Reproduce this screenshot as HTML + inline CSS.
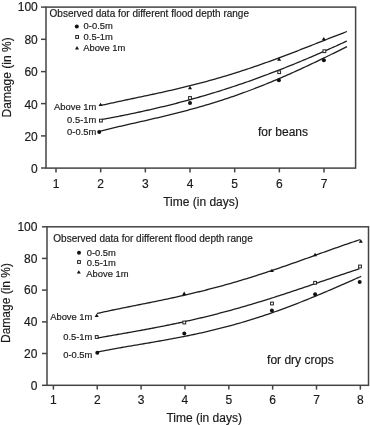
<!DOCTYPE html>
<html><head><meta charset="utf-8"><style>
html,body{margin:0;padding:0;background:#fff;}
svg{display:block;}
</style></head><body>
<svg width="370" height="425" viewBox="0 0 370 425">
<rect width="370" height="425" fill="#fff"/>
<rect x="46" y="7.1" width="309.6" height="161.0" stroke="#444" stroke-width="1.5" fill="none"/>
<line x1="56.0" y1="168.1" x2="56.0" y2="172.4" stroke="#444" stroke-width="1.5" fill="none"/>
<text x="56.00" y="187.5" text-anchor="middle" font-size="12" font-family="Liberation Sans, Arial, sans-serif" stroke="#1a1a1a" stroke-width="0.18" fill="#1a1a1a">1</text>
<line x1="100.67" y1="168.1" x2="100.67" y2="172.4" stroke="#444" stroke-width="1.5" fill="none"/>
<text x="100.67" y="187.5" text-anchor="middle" font-size="12" font-family="Liberation Sans, Arial, sans-serif" stroke="#1a1a1a" stroke-width="0.18" fill="#1a1a1a">2</text>
<line x1="145.34" y1="168.1" x2="145.34" y2="172.4" stroke="#444" stroke-width="1.5" fill="none"/>
<text x="145.34" y="187.5" text-anchor="middle" font-size="12" font-family="Liberation Sans, Arial, sans-serif" stroke="#1a1a1a" stroke-width="0.18" fill="#1a1a1a">3</text>
<line x1="190.01" y1="168.1" x2="190.01" y2="172.4" stroke="#444" stroke-width="1.5" fill="none"/>
<text x="190.01" y="187.5" text-anchor="middle" font-size="12" font-family="Liberation Sans, Arial, sans-serif" stroke="#1a1a1a" stroke-width="0.18" fill="#1a1a1a">4</text>
<line x1="234.68" y1="168.1" x2="234.68" y2="172.4" stroke="#444" stroke-width="1.5" fill="none"/>
<text x="234.68" y="187.5" text-anchor="middle" font-size="12" font-family="Liberation Sans, Arial, sans-serif" stroke="#1a1a1a" stroke-width="0.18" fill="#1a1a1a">5</text>
<line x1="279.35" y1="168.1" x2="279.35" y2="172.4" stroke="#444" stroke-width="1.5" fill="none"/>
<text x="279.35" y="187.5" text-anchor="middle" font-size="12" font-family="Liberation Sans, Arial, sans-serif" stroke="#1a1a1a" stroke-width="0.18" fill="#1a1a1a">6</text>
<line x1="324.02" y1="168.1" x2="324.02" y2="172.4" stroke="#444" stroke-width="1.5" fill="none"/>
<text x="324.02" y="187.5" text-anchor="middle" font-size="12" font-family="Liberation Sans, Arial, sans-serif" stroke="#1a1a1a" stroke-width="0.18" fill="#1a1a1a">7</text>
<line x1="41" y1="168.0" x2="46" y2="168.0" stroke="#444" stroke-width="1.5" fill="none"/>
<text x="37.75" y="173.05" text-anchor="end" font-size="12" font-family="Liberation Sans, Arial, sans-serif" stroke="#1a1a1a" stroke-width="0.18" fill="#1a1a1a">0</text>
<line x1="41" y1="135.9" x2="46" y2="135.9" stroke="#444" stroke-width="1.5" fill="none"/>
<text x="37.75" y="140.65" text-anchor="end" font-size="12" font-family="Liberation Sans, Arial, sans-serif" stroke="#1a1a1a" stroke-width="0.18" fill="#1a1a1a">20</text>
<line x1="41" y1="103.6" x2="46" y2="103.6" stroke="#444" stroke-width="1.5" fill="none"/>
<text x="37.75" y="108.65" text-anchor="end" font-size="12" font-family="Liberation Sans, Arial, sans-serif" stroke="#1a1a1a" stroke-width="0.18" fill="#1a1a1a">40</text>
<line x1="41" y1="71.6" x2="46" y2="71.6" stroke="#444" stroke-width="1.5" fill="none"/>
<text x="37.75" y="76.25" text-anchor="end" font-size="12" font-family="Liberation Sans, Arial, sans-serif" stroke="#1a1a1a" stroke-width="0.18" fill="#1a1a1a">60</text>
<line x1="41" y1="39.3" x2="46" y2="39.3" stroke="#444" stroke-width="1.5" fill="none"/>
<text x="37.75" y="43.65" text-anchor="end" font-size="12" font-family="Liberation Sans, Arial, sans-serif" stroke="#1a1a1a" stroke-width="0.18" fill="#1a1a1a">80</text>
<line x1="41" y1="7.1" x2="46" y2="7.1" stroke="#444" stroke-width="1.5" fill="none"/>
<text x="37.75" y="10.55" text-anchor="end" font-size="12" font-family="Liberation Sans, Arial, sans-serif" stroke="#1a1a1a" stroke-width="0.18" fill="#1a1a1a">100</text>
<rect x="47" y="226.8" width="321.5" height="158.5" stroke="#444" stroke-width="1.5" fill="none"/>
<line x1="53.4" y1="385.3" x2="53.4" y2="389.6" stroke="#444" stroke-width="1.5" fill="none"/>
<text x="53.40" y="404" text-anchor="middle" font-size="12" font-family="Liberation Sans, Arial, sans-serif" stroke="#1a1a1a" stroke-width="0.18" fill="#1a1a1a">1</text>
<line x1="97.25" y1="385.3" x2="97.25" y2="389.6" stroke="#444" stroke-width="1.5" fill="none"/>
<text x="97.25" y="404" text-anchor="middle" font-size="12" font-family="Liberation Sans, Arial, sans-serif" stroke="#1a1a1a" stroke-width="0.18" fill="#1a1a1a">2</text>
<line x1="141.1" y1="385.3" x2="141.1" y2="389.6" stroke="#444" stroke-width="1.5" fill="none"/>
<text x="141.10" y="404" text-anchor="middle" font-size="12" font-family="Liberation Sans, Arial, sans-serif" stroke="#1a1a1a" stroke-width="0.18" fill="#1a1a1a">3</text>
<line x1="184.95000000000002" y1="385.3" x2="184.95000000000002" y2="389.6" stroke="#444" stroke-width="1.5" fill="none"/>
<text x="184.95" y="404" text-anchor="middle" font-size="12" font-family="Liberation Sans, Arial, sans-serif" stroke="#1a1a1a" stroke-width="0.18" fill="#1a1a1a">4</text>
<line x1="228.8" y1="385.3" x2="228.8" y2="389.6" stroke="#444" stroke-width="1.5" fill="none"/>
<text x="228.80" y="404" text-anchor="middle" font-size="12" font-family="Liberation Sans, Arial, sans-serif" stroke="#1a1a1a" stroke-width="0.18" fill="#1a1a1a">5</text>
<line x1="272.65" y1="385.3" x2="272.65" y2="389.6" stroke="#444" stroke-width="1.5" fill="none"/>
<text x="272.65" y="404" text-anchor="middle" font-size="12" font-family="Liberation Sans, Arial, sans-serif" stroke="#1a1a1a" stroke-width="0.18" fill="#1a1a1a">6</text>
<line x1="316.5" y1="385.3" x2="316.5" y2="389.6" stroke="#444" stroke-width="1.5" fill="none"/>
<text x="316.50" y="404" text-anchor="middle" font-size="12" font-family="Liberation Sans, Arial, sans-serif" stroke="#1a1a1a" stroke-width="0.18" fill="#1a1a1a">7</text>
<line x1="360.34999999999997" y1="385.3" x2="360.34999999999997" y2="389.6" stroke="#444" stroke-width="1.5" fill="none"/>
<text x="360.35" y="404" text-anchor="middle" font-size="12" font-family="Liberation Sans, Arial, sans-serif" stroke="#1a1a1a" stroke-width="0.18" fill="#1a1a1a">8</text>
<line x1="42" y1="385.3" x2="47" y2="385.3" stroke="#444" stroke-width="1.5" fill="none"/>
<text x="37.45" y="389.70" text-anchor="end" font-size="12" font-family="Liberation Sans, Arial, sans-serif" stroke="#1a1a1a" stroke-width="0.18" fill="#1a1a1a">0</text>
<line x1="42" y1="353.5" x2="47" y2="353.5" stroke="#444" stroke-width="1.5" fill="none"/>
<text x="37.45" y="357.65" text-anchor="end" font-size="12" font-family="Liberation Sans, Arial, sans-serif" stroke="#1a1a1a" stroke-width="0.18" fill="#1a1a1a">20</text>
<line x1="42" y1="321.9" x2="47" y2="321.9" stroke="#444" stroke-width="1.5" fill="none"/>
<text x="37.45" y="325.90" text-anchor="end" font-size="12" font-family="Liberation Sans, Arial, sans-serif" stroke="#1a1a1a" stroke-width="0.18" fill="#1a1a1a">40</text>
<line x1="42" y1="290.1" x2="47" y2="290.1" stroke="#444" stroke-width="1.5" fill="none"/>
<text x="37.45" y="294.10" text-anchor="end" font-size="12" font-family="Liberation Sans, Arial, sans-serif" stroke="#1a1a1a" stroke-width="0.18" fill="#1a1a1a">60</text>
<line x1="42" y1="258.4" x2="47" y2="258.4" stroke="#444" stroke-width="1.5" fill="none"/>
<text x="37.45" y="262.75" text-anchor="end" font-size="12" font-family="Liberation Sans, Arial, sans-serif" stroke="#1a1a1a" stroke-width="0.18" fill="#1a1a1a">80</text>
<line x1="42" y1="226.8" x2="47" y2="226.8" stroke="#444" stroke-width="1.5" fill="none"/>
<text x="37.45" y="230.95" text-anchor="end" font-size="12" font-family="Liberation Sans, Arial, sans-serif" stroke="#1a1a1a" stroke-width="0.18" fill="#1a1a1a">100</text>
<path d="M101.00,105.45 L103.00,104.99 L105.00,104.54 L107.00,104.09 L109.00,103.64 L111.00,103.20 L113.00,102.76 L115.00,102.32 L117.00,101.89 L119.00,101.46 L121.00,101.03 L123.00,100.61 L125.00,100.18 L127.00,99.76 L129.00,99.33 L131.00,98.91 L133.00,98.49 L135.00,98.07 L137.00,97.65 L139.00,97.23 L141.00,96.81 L143.00,96.38 L145.00,95.96 L147.00,95.54 L149.00,95.11 L151.00,94.68 L153.00,94.25 L155.00,93.82 L157.00,93.38 L159.00,92.95 L161.00,92.51 L163.00,92.06 L165.00,91.62 L167.00,91.17 L169.00,90.72 L171.00,90.26 L173.00,89.80 L175.00,89.34 L177.00,88.87 L179.00,88.39 L181.00,87.92 L183.00,87.44 L185.00,86.95 L187.00,86.46 L189.00,85.96 L191.00,85.46 L193.00,84.96 L195.00,84.45 L197.00,83.93 L199.00,83.41 L201.00,82.88 L203.00,82.35 L205.00,81.81 L207.00,81.27 L209.00,80.72 L211.00,80.17 L213.00,79.61 L215.00,79.04 L217.00,78.47 L219.00,77.89 L221.00,77.30 L223.00,76.71 L225.00,76.12 L227.00,75.51 L229.00,74.91 L231.00,74.29 L233.00,73.67 L235.00,73.05 L237.00,72.41 L239.00,71.78 L241.00,71.13 L243.00,70.48 L245.00,69.83 L247.00,69.17 L249.00,68.50 L251.00,67.83 L253.00,67.15 L255.00,66.47 L257.00,65.78 L259.00,65.08 L261.00,64.38 L263.00,63.68 L265.00,62.97 L267.00,62.25 L269.00,61.54 L271.00,60.81 L273.00,60.08 L275.00,59.35 L277.00,58.61 L279.00,57.87 L281.00,57.12 L283.00,56.37 L285.00,55.62 L287.00,54.86 L289.00,54.10 L291.00,53.34 L293.00,52.57 L295.00,51.80 L297.00,51.03 L299.00,50.25 L301.00,49.48 L303.00,48.70 L305.00,47.91 L307.00,47.13 L309.00,46.35 L311.00,45.56 L313.00,44.77 L315.00,43.99 L317.00,43.20 L319.00,42.41 L321.00,41.62 L323.00,40.83 L325.00,40.05 L327.00,39.26 L329.00,38.47 L331.00,37.69 L333.00,36.90 L335.00,36.12 L337.00,35.34 L339.00,34.57 L341.00,33.80 L343.00,33.02 L345.00,32.26 L347.00,31.50" fill="none" stroke="#1e1e1e" stroke-width="1.3"/>
<path d="M101.50,119.60 L103.50,119.23 L105.50,118.86 L107.50,118.48 L109.50,118.10 L111.50,117.72 L113.50,117.33 L115.50,116.95 L117.50,116.55 L119.50,116.16 L121.50,115.76 L123.50,115.36 L125.50,114.95 L127.50,114.54 L129.50,114.13 L131.50,113.72 L133.50,113.30 L135.50,112.87 L137.50,112.44 L139.50,112.01 L141.50,111.58 L143.50,111.14 L145.50,110.69 L147.50,110.25 L149.50,109.79 L151.50,109.34 L153.50,108.88 L155.50,108.41 L157.50,107.94 L159.50,107.47 L161.50,106.99 L163.50,106.51 L165.50,106.02 L167.50,105.53 L169.50,105.03 L171.50,104.53 L173.50,104.03 L175.50,103.51 L177.50,103.00 L179.50,102.48 L181.50,101.95 L183.50,101.42 L185.50,100.89 L187.50,100.35 L189.50,99.80 L191.50,99.25 L193.50,98.70 L195.50,98.14 L197.50,97.57 L199.50,97.00 L201.50,96.43 L203.50,95.84 L205.50,95.26 L207.50,94.67 L209.50,94.07 L211.50,93.47 L213.50,92.86 L215.50,92.25 L217.50,91.63 L219.50,91.01 L221.50,90.38 L223.50,89.75 L225.50,89.11 L227.50,88.47 L229.50,87.82 L231.50,87.16 L233.50,86.50 L235.50,85.84 L237.50,85.17 L239.50,84.49 L241.50,83.81 L243.50,83.13 L245.50,82.44 L247.50,81.74 L249.50,81.04 L251.50,80.33 L253.50,79.62 L255.50,78.90 L257.50,78.18 L259.50,77.45 L261.50,76.72 L263.50,75.98 L265.50,75.23 L267.50,74.49 L269.50,73.73 L271.50,72.97 L273.50,72.21 L275.50,71.44 L277.50,70.67 L279.50,69.89 L281.50,69.11 L283.50,68.32 L285.50,67.52 L287.50,66.72 L289.50,65.92 L291.50,65.11 L293.50,64.30 L295.50,63.48 L297.50,62.66 L299.50,61.84 L301.50,61.00 L303.50,60.17 L305.50,59.33 L307.50,58.48 L309.50,57.63 L311.50,56.78 L313.50,55.92 L315.50,55.06 L317.50,54.20 L319.50,53.33 L321.50,52.45 L323.50,51.57 L325.50,50.69 L327.50,49.80 L329.50,48.91 L331.50,48.02 L333.50,47.12 L335.50,46.22 L337.50,45.32 L339.50,44.41 L341.50,43.50 L343.50,42.58 L345.50,41.66 L347.00,40.97" fill="none" stroke="#1e1e1e" stroke-width="1.3"/>
<path d="M99.50,131.33 L101.50,130.82 L103.50,130.32 L105.50,129.83 L107.50,129.34 L109.50,128.86 L111.50,128.38 L113.50,127.90 L115.50,127.43 L117.50,126.96 L119.50,126.49 L121.50,126.03 L123.50,125.57 L125.50,125.11 L127.50,124.65 L129.50,124.19 L131.50,123.74 L133.50,123.28 L135.50,122.83 L137.50,122.37 L139.50,121.92 L141.50,121.46 L143.50,121.01 L145.50,120.55 L147.50,120.09 L149.50,119.63 L151.50,119.17 L153.50,118.70 L155.50,118.24 L157.50,117.77 L159.50,117.29 L161.50,116.82 L163.50,116.34 L165.50,115.86 L167.50,115.37 L169.50,114.88 L171.50,114.39 L173.50,113.89 L175.50,113.39 L177.50,112.89 L179.50,112.38 L181.50,111.86 L183.50,111.34 L185.50,110.81 L187.50,110.28 L189.50,109.74 L191.50,109.20 L193.50,108.65 L195.50,108.10 L197.50,107.53 L199.50,106.97 L201.50,106.39 L203.50,105.81 L205.50,105.23 L207.50,104.63 L209.50,104.03 L211.50,103.43 L213.50,102.81 L215.50,102.19 L217.50,101.56 L219.50,100.93 L221.50,100.29 L223.50,99.64 L225.50,98.98 L227.50,98.31 L229.50,97.64 L231.50,96.96 L233.50,96.28 L235.50,95.58 L237.50,94.88 L239.50,94.17 L241.50,93.46 L243.50,92.73 L245.50,92.00 L247.50,91.26 L249.50,90.51 L251.50,89.76 L253.50,89.00 L255.50,88.23 L257.50,87.45 L259.50,86.67 L261.50,85.87 L263.50,85.08 L265.50,84.27 L267.50,83.46 L269.50,82.64 L271.50,81.81 L273.50,80.97 L275.50,80.13 L277.50,79.28 L279.50,78.43 L281.50,77.57 L283.50,76.70 L285.50,75.83 L287.50,74.95 L289.50,74.06 L291.50,73.17 L293.50,72.27 L295.50,71.36 L297.50,70.45 L299.50,69.54 L301.50,68.62 L303.50,67.69 L305.50,66.76 L307.50,65.82 L309.50,64.88 L311.50,63.94 L313.50,62.99 L315.50,62.04 L317.50,61.08 L319.50,60.12 L321.50,59.15 L323.50,58.19 L325.50,57.21 L327.50,56.24 L329.50,55.26 L331.50,54.29 L333.50,53.30 L335.50,52.32 L337.50,51.34 L339.50,50.35 L341.50,49.36 L343.50,48.38 L345.50,47.39 L347.00,46.65" fill="none" stroke="#1e1e1e" stroke-width="1.3"/>
<path d="M97.00,313.47 L99.00,313.02 L101.00,312.58 L103.00,312.14 L105.00,311.71 L107.00,311.28 L109.00,310.85 L111.00,310.43 L113.00,310.01 L115.00,309.60 L117.00,309.18 L119.00,308.77 L121.00,308.37 L123.00,307.96 L125.00,307.56 L127.00,307.15 L129.00,306.75 L131.00,306.35 L133.00,305.95 L135.00,305.55 L137.00,305.15 L139.00,304.75 L141.00,304.35 L143.00,303.95 L145.00,303.55 L147.00,303.15 L149.00,302.74 L151.00,302.34 L153.00,301.93 L155.00,301.52 L157.00,301.11 L159.00,300.70 L161.00,300.28 L163.00,299.87 L165.00,299.45 L167.00,299.02 L169.00,298.60 L171.00,298.17 L173.00,297.74 L175.00,297.30 L177.00,296.86 L179.00,296.42 L181.00,295.97 L183.00,295.52 L185.00,295.06 L187.00,294.60 L189.00,294.14 L191.00,293.67 L193.00,293.20 L195.00,292.72 L197.00,292.24 L199.00,291.75 L201.00,291.26 L203.00,290.76 L205.00,290.26 L207.00,289.75 L209.00,289.24 L211.00,288.72 L213.00,288.20 L215.00,287.67 L217.00,287.14 L219.00,286.60 L221.00,286.06 L223.00,285.51 L225.00,284.96 L227.00,284.40 L229.00,283.83 L231.00,283.26 L233.00,282.69 L235.00,282.11 L237.00,281.52 L239.00,280.93 L241.00,280.34 L243.00,279.73 L245.00,279.13 L247.00,278.52 L249.00,277.90 L251.00,277.28 L253.00,276.65 L255.00,276.02 L257.00,275.38 L259.00,274.74 L261.00,274.10 L263.00,273.45 L265.00,272.79 L267.00,272.14 L269.00,271.47 L271.00,270.81 L273.00,270.13 L275.00,269.46 L277.00,268.78 L279.00,268.10 L281.00,267.41 L283.00,266.72 L285.00,266.03 L287.00,265.34 L289.00,264.64 L291.00,263.94 L293.00,263.23 L295.00,262.53 L297.00,261.82 L299.00,261.11 L301.00,260.40 L303.00,259.68 L305.00,258.97 L307.00,258.25 L309.00,257.54 L311.00,256.82 L313.00,256.10 L315.00,255.38 L317.00,254.66 L319.00,253.94 L321.00,253.22 L323.00,252.51 L325.00,251.79 L327.00,251.07 L329.00,250.36 L331.00,249.65 L333.00,248.94 L335.00,248.23 L337.00,247.52 L339.00,246.82 L341.00,246.12 L343.00,245.42 L345.00,244.73 L347.00,244.04 L349.00,243.35 L351.00,242.67 L353.00,242.00 L355.00,241.33 L357.00,240.66 L359.00,240.00 L360.30,239.58" fill="none" stroke="#1e1e1e" stroke-width="1.3"/>
<path d="M97.50,337.99 L99.50,337.64 L101.50,337.29 L103.50,336.94 L105.50,336.59 L107.50,336.25 L109.50,335.90 L111.50,335.55 L113.50,335.20 L115.50,334.86 L117.50,334.51 L119.50,334.16 L121.50,333.81 L123.50,333.46 L125.50,333.11 L127.50,332.76 L129.50,332.40 L131.50,332.05 L133.50,331.69 L135.50,331.33 L137.50,330.97 L139.50,330.61 L141.50,330.25 L143.50,329.88 L145.50,329.51 L147.50,329.14 L149.50,328.76 L151.50,328.38 L153.50,328.00 L155.50,327.62 L157.50,327.23 L159.50,326.84 L161.50,326.45 L163.50,326.05 L165.50,325.65 L167.50,325.25 L169.50,324.84 L171.50,324.43 L173.50,324.01 L175.50,323.59 L177.50,323.17 L179.50,322.74 L181.50,322.31 L183.50,321.87 L185.50,321.43 L187.50,320.99 L189.50,320.54 L191.50,320.08 L193.50,319.62 L195.50,319.16 L197.50,318.69 L199.50,318.22 L201.50,317.75 L203.50,317.26 L205.50,316.78 L207.50,316.29 L209.50,315.79 L211.50,315.29 L213.50,314.79 L215.50,314.28 L217.50,313.76 L219.50,313.24 L221.50,312.72 L223.50,312.19 L225.50,311.65 L227.50,311.12 L229.50,310.57 L231.50,310.02 L233.50,309.47 L235.50,308.91 L237.50,308.35 L239.50,307.79 L241.50,307.21 L243.50,306.64 L245.50,306.06 L247.50,305.47 L249.50,304.88 L251.50,304.29 L253.50,303.69 L255.50,303.09 L257.50,302.49 L259.50,301.88 L261.50,301.26 L263.50,300.64 L265.50,300.02 L267.50,299.40 L269.50,298.77 L271.50,298.14 L273.50,297.50 L275.50,296.86 L277.50,296.22 L279.50,295.57 L281.50,294.92 L283.50,294.27 L285.50,293.62 L287.50,292.96 L289.50,292.30 L291.50,291.64 L293.50,290.97 L295.50,290.30 L297.50,289.63 L299.50,288.96 L301.50,288.29 L303.50,287.61 L305.50,286.94 L307.50,286.26 L309.50,285.58 L311.50,284.90 L313.50,284.22 L315.50,283.54 L317.50,282.86 L319.50,282.17 L321.50,281.49 L323.50,280.81 L325.50,280.13 L327.50,279.44 L329.50,278.76 L331.50,278.08 L333.50,277.40 L335.50,276.72 L337.50,276.04 L339.50,275.37 L341.50,274.69 L343.50,274.02 L345.50,273.35 L347.50,272.68 L349.50,272.02 L351.50,271.35 L353.50,270.69 L355.50,270.04 L357.50,269.38 L359.50,268.74" fill="none" stroke="#1e1e1e" stroke-width="1.3"/>
<path d="M97.70,351.96 L99.70,351.57 L101.70,351.17 L103.70,350.79 L105.70,350.41 L107.70,350.03 L109.70,349.66 L111.70,349.29 L113.70,348.93 L115.70,348.57 L117.70,348.21 L119.70,347.86 L121.70,347.51 L123.70,347.17 L125.70,346.82 L127.70,346.48 L129.70,346.14 L131.70,345.80 L133.70,345.46 L135.70,345.12 L137.70,344.78 L139.70,344.44 L141.70,344.10 L143.70,343.76 L145.70,343.43 L147.70,343.09 L149.70,342.74 L151.70,342.40 L153.70,342.06 L155.70,341.71 L157.70,341.36 L159.70,341.01 L161.70,340.66 L163.70,340.30 L165.70,339.94 L167.70,339.58 L169.70,339.22 L171.70,338.85 L173.70,338.47 L175.70,338.10 L177.70,337.72 L179.70,337.33 L181.70,336.94 L183.70,336.55 L185.70,336.15 L187.70,335.74 L189.70,335.33 L191.70,334.92 L193.70,334.50 L195.70,334.07 L197.70,333.64 L199.70,333.20 L201.70,332.76 L203.70,332.31 L205.70,331.86 L207.70,331.39 L209.70,330.93 L211.70,330.45 L213.70,329.97 L215.70,329.48 L217.70,328.99 L219.70,328.49 L221.70,327.98 L223.70,327.46 L225.70,326.94 L227.70,326.41 L229.70,325.87 L231.70,325.33 L233.70,324.78 L235.70,324.22 L237.70,323.66 L239.70,323.08 L241.70,322.50 L243.70,321.91 L245.70,321.32 L247.70,320.72 L249.70,320.11 L251.70,319.49 L253.70,318.86 L255.70,318.23 L257.70,317.59 L259.70,316.95 L261.70,316.29 L263.70,315.63 L265.70,314.96 L267.70,314.28 L269.70,313.60 L271.70,312.91 L273.70,312.21 L275.70,311.51 L277.70,310.79 L279.70,310.08 L281.70,309.35 L283.70,308.62 L285.70,307.88 L287.70,307.13 L289.70,306.38 L291.70,305.62 L293.70,304.86 L295.70,304.09 L297.70,303.31 L299.70,302.52 L301.70,301.74 L303.70,300.94 L305.70,300.14 L307.70,299.33 L309.70,298.52 L311.70,297.71 L313.70,296.88 L315.70,296.06 L317.70,295.23 L319.70,294.39 L321.70,293.55 L323.70,292.71 L325.70,291.86 L327.70,291.01 L329.70,290.15 L331.70,289.29 L333.70,288.43 L335.70,287.56 L337.70,286.69 L339.70,285.82 L341.70,284.95 L343.70,284.07 L345.70,283.19 L347.70,282.31 L349.70,281.43 L351.70,280.55 L353.70,279.67 L355.70,278.78 L357.70,277.90 L359.70,277.02 L361.20,276.35" fill="none" stroke="#1e1e1e" stroke-width="1.3"/>
<path d="M98.50,106.10 L102.50,106.10 L100.50,102.70 Z" fill="#111"/><rect x="99.50" y="119.20" width="2.8" height="2.8" fill="#fff" stroke="#222" stroke-width="1"/><circle cx="99.2" cy="132.1" r="2.0" fill="#111"/><path d="M188.00,89.20 L192.00,89.20 L190.00,85.80 Z" fill="#111"/><rect x="188.60" y="96.60" width="2.8" height="2.8" fill="#fff" stroke="#222" stroke-width="1"/><circle cx="190" cy="103" r="2.0" fill="#111"/><path d="M277.10,60.70 L281.10,60.70 L279.10,57.30 Z" fill="#111"/><rect x="277.80" y="70.80" width="2.8" height="2.8" fill="#fff" stroke="#222" stroke-width="1"/><circle cx="278.9" cy="80.2" r="2.0" fill="#111"/><path d="M321.80,40.30 L325.80,40.30 L323.80,36.90 Z" fill="#111"/><rect x="323.00" y="49.80" width="2.8" height="2.8" fill="#fff" stroke="#222" stroke-width="1"/><circle cx="323.9" cy="60.2" r="2.0" fill="#111"/><path d="M94.70,317.00 L98.70,317.00 L96.70,313.60 Z" fill="#111"/><rect x="95.30" y="335.60" width="2.8" height="2.8" fill="#fff" stroke="#222" stroke-width="1"/><circle cx="97.3" cy="352.7" r="2.0" fill="#111"/><path d="M182.20,294.90 L186.20,294.90 L184.20,291.50 Z" fill="#111"/><rect x="182.90" y="321.10" width="2.8" height="2.8" fill="#fff" stroke="#222" stroke-width="1"/><circle cx="184.3" cy="333.5" r="2.0" fill="#111"/><path d="M269.90,272.10 L273.90,272.10 L271.90,268.70 Z" fill="#111"/><rect x="270.60" y="302.10" width="2.8" height="2.8" fill="#fff" stroke="#222" stroke-width="1"/><circle cx="271.9" cy="310.4" r="2.0" fill="#111"/><path d="M313.10,256.20 L317.10,256.20 L315.10,252.80 Z" fill="#111"/><rect x="313.70" y="281.40" width="2.8" height="2.8" fill="#fff" stroke="#222" stroke-width="1"/><circle cx="315.1" cy="294.2" r="2.0" fill="#111"/><path d="M358.80,242.70 L362.80,242.70 L360.80,239.30 Z" fill="#111"/><rect x="358.60" y="265.10" width="2.8" height="2.8" fill="#fff" stroke="#222" stroke-width="1"/><circle cx="359.7" cy="281.9" r="2.0" fill="#111"/>
<circle cx="76.8" cy="26.5" r="2.0" fill="#111"/><rect x="75.70" y="35.60" width="2.8" height="2.8" fill="#fff" stroke="#222" stroke-width="1"/><path d="M75.00,49.40 L79.00,49.40 L77.00,46.00 Z" fill="#111"/><circle cx="79.0" cy="252.7" r="2.0" fill="#111"/><rect x="77.60" y="260.60" width="2.8" height="2.8" fill="#fff" stroke="#222" stroke-width="1"/><path d="M76.80,273.60 L80.80,273.60 L78.80,270.20 Z" fill="#111"/>

<text x="163.2" y="206.2" font-size="12" font-family="Liberation Sans, Arial, sans-serif" stroke="#1a1a1a" stroke-width="0.18" fill="#1a1a1a">Time (in days)</text>
<text x="166.4" y="422.4" font-size="12" font-family="Liberation Sans, Arial, sans-serif" stroke="#1a1a1a" stroke-width="0.18" fill="#1a1a1a">Time (in days)</text>
<text transform="translate(10.6,117.4) rotate(-90)" font-size="12" font-family="Liberation Sans, Arial, sans-serif" stroke="#1a1a1a" stroke-width="0.18" fill="#1a1a1a">Damage (in %)</text>
<text transform="translate(10.3,343) rotate(-90)" font-size="12" font-family="Liberation Sans, Arial, sans-serif" stroke="#1a1a1a" stroke-width="0.18" fill="#1a1a1a">Damage (in %)</text>
<text x="49.6" y="16.9" font-size="10" font-family="Liberation Sans, Arial, sans-serif" stroke="#1a1a1a" stroke-width="0.18" fill="#1a1a1a">Observed data for different flood depth range</text>
<text x="53.3" y="242.3" font-size="10" font-family="Liberation Sans, Arial, sans-serif" stroke="#1a1a1a" stroke-width="0.18" fill="#1a1a1a">Observed data for different flood depth range</text>
<text x="83.6" y="29.2" font-size="9.4" font-family="Liberation Sans, Arial, sans-serif" stroke="#1a1a1a" stroke-width="0.18" fill="#1a1a1a">0-0.5m</text>
<text x="83.6" y="39.8" font-size="9.4" font-family="Liberation Sans, Arial, sans-serif" stroke="#1a1a1a" stroke-width="0.18" fill="#1a1a1a">0.5-1m</text>
<text x="83.2" y="50.5" font-size="9.4" font-family="Liberation Sans, Arial, sans-serif" stroke="#1a1a1a" stroke-width="0.18" fill="#1a1a1a">Above 1m</text>
<text x="86.7" y="255.8" font-size="9.4" font-family="Liberation Sans, Arial, sans-serif" stroke="#1a1a1a" stroke-width="0.18" fill="#1a1a1a">0-0.5m</text>
<text x="86.7" y="266.0" font-size="9.4" font-family="Liberation Sans, Arial, sans-serif" stroke="#1a1a1a" stroke-width="0.18" fill="#1a1a1a">0.5-1m</text>
<text x="86.3" y="276.6" font-size="9.4" font-family="Liberation Sans, Arial, sans-serif" stroke="#1a1a1a" stroke-width="0.18" fill="#1a1a1a">Above 1m</text>
<text x="96.3" y="109.9" text-anchor="end" font-size="9.4" font-family="Liberation Sans, Arial, sans-serif" stroke="#1a1a1a" stroke-width="0.18" fill="#1a1a1a">Above 1m</text>
<text x="96.3" y="123.1" text-anchor="end" font-size="9.4" font-family="Liberation Sans, Arial, sans-serif" stroke="#1a1a1a" stroke-width="0.18" fill="#1a1a1a">0.5-1m</text>
<text x="96.3" y="134.7" text-anchor="end" font-size="9.4" font-family="Liberation Sans, Arial, sans-serif" stroke="#1a1a1a" stroke-width="0.18" fill="#1a1a1a">0-0.5m</text>
<text x="92.4" y="320.1" text-anchor="end" font-size="9.4" font-family="Liberation Sans, Arial, sans-serif" stroke="#1a1a1a" stroke-width="0.18" fill="#1a1a1a">Above 1m</text>
<text x="92.4" y="339.9" text-anchor="end" font-size="9.4" font-family="Liberation Sans, Arial, sans-serif" stroke="#1a1a1a" stroke-width="0.18" fill="#1a1a1a">0.5-1m</text>
<text x="92.4" y="357.7" text-anchor="end" font-size="9.4" font-family="Liberation Sans, Arial, sans-serif" stroke="#1a1a1a" stroke-width="0.18" fill="#1a1a1a">0-0.5m</text>
<text x="258" y="135.5" font-size="12" font-family="Liberation Sans, Arial, sans-serif" stroke="#1a1a1a" stroke-width="0.18" fill="#1a1a1a">for beans</text>
<text x="267.1" y="363.8" font-size="12" font-family="Liberation Sans, Arial, sans-serif" stroke="#1a1a1a" stroke-width="0.18" fill="#1a1a1a">for dry crops</text>

</svg>
</body></html>
